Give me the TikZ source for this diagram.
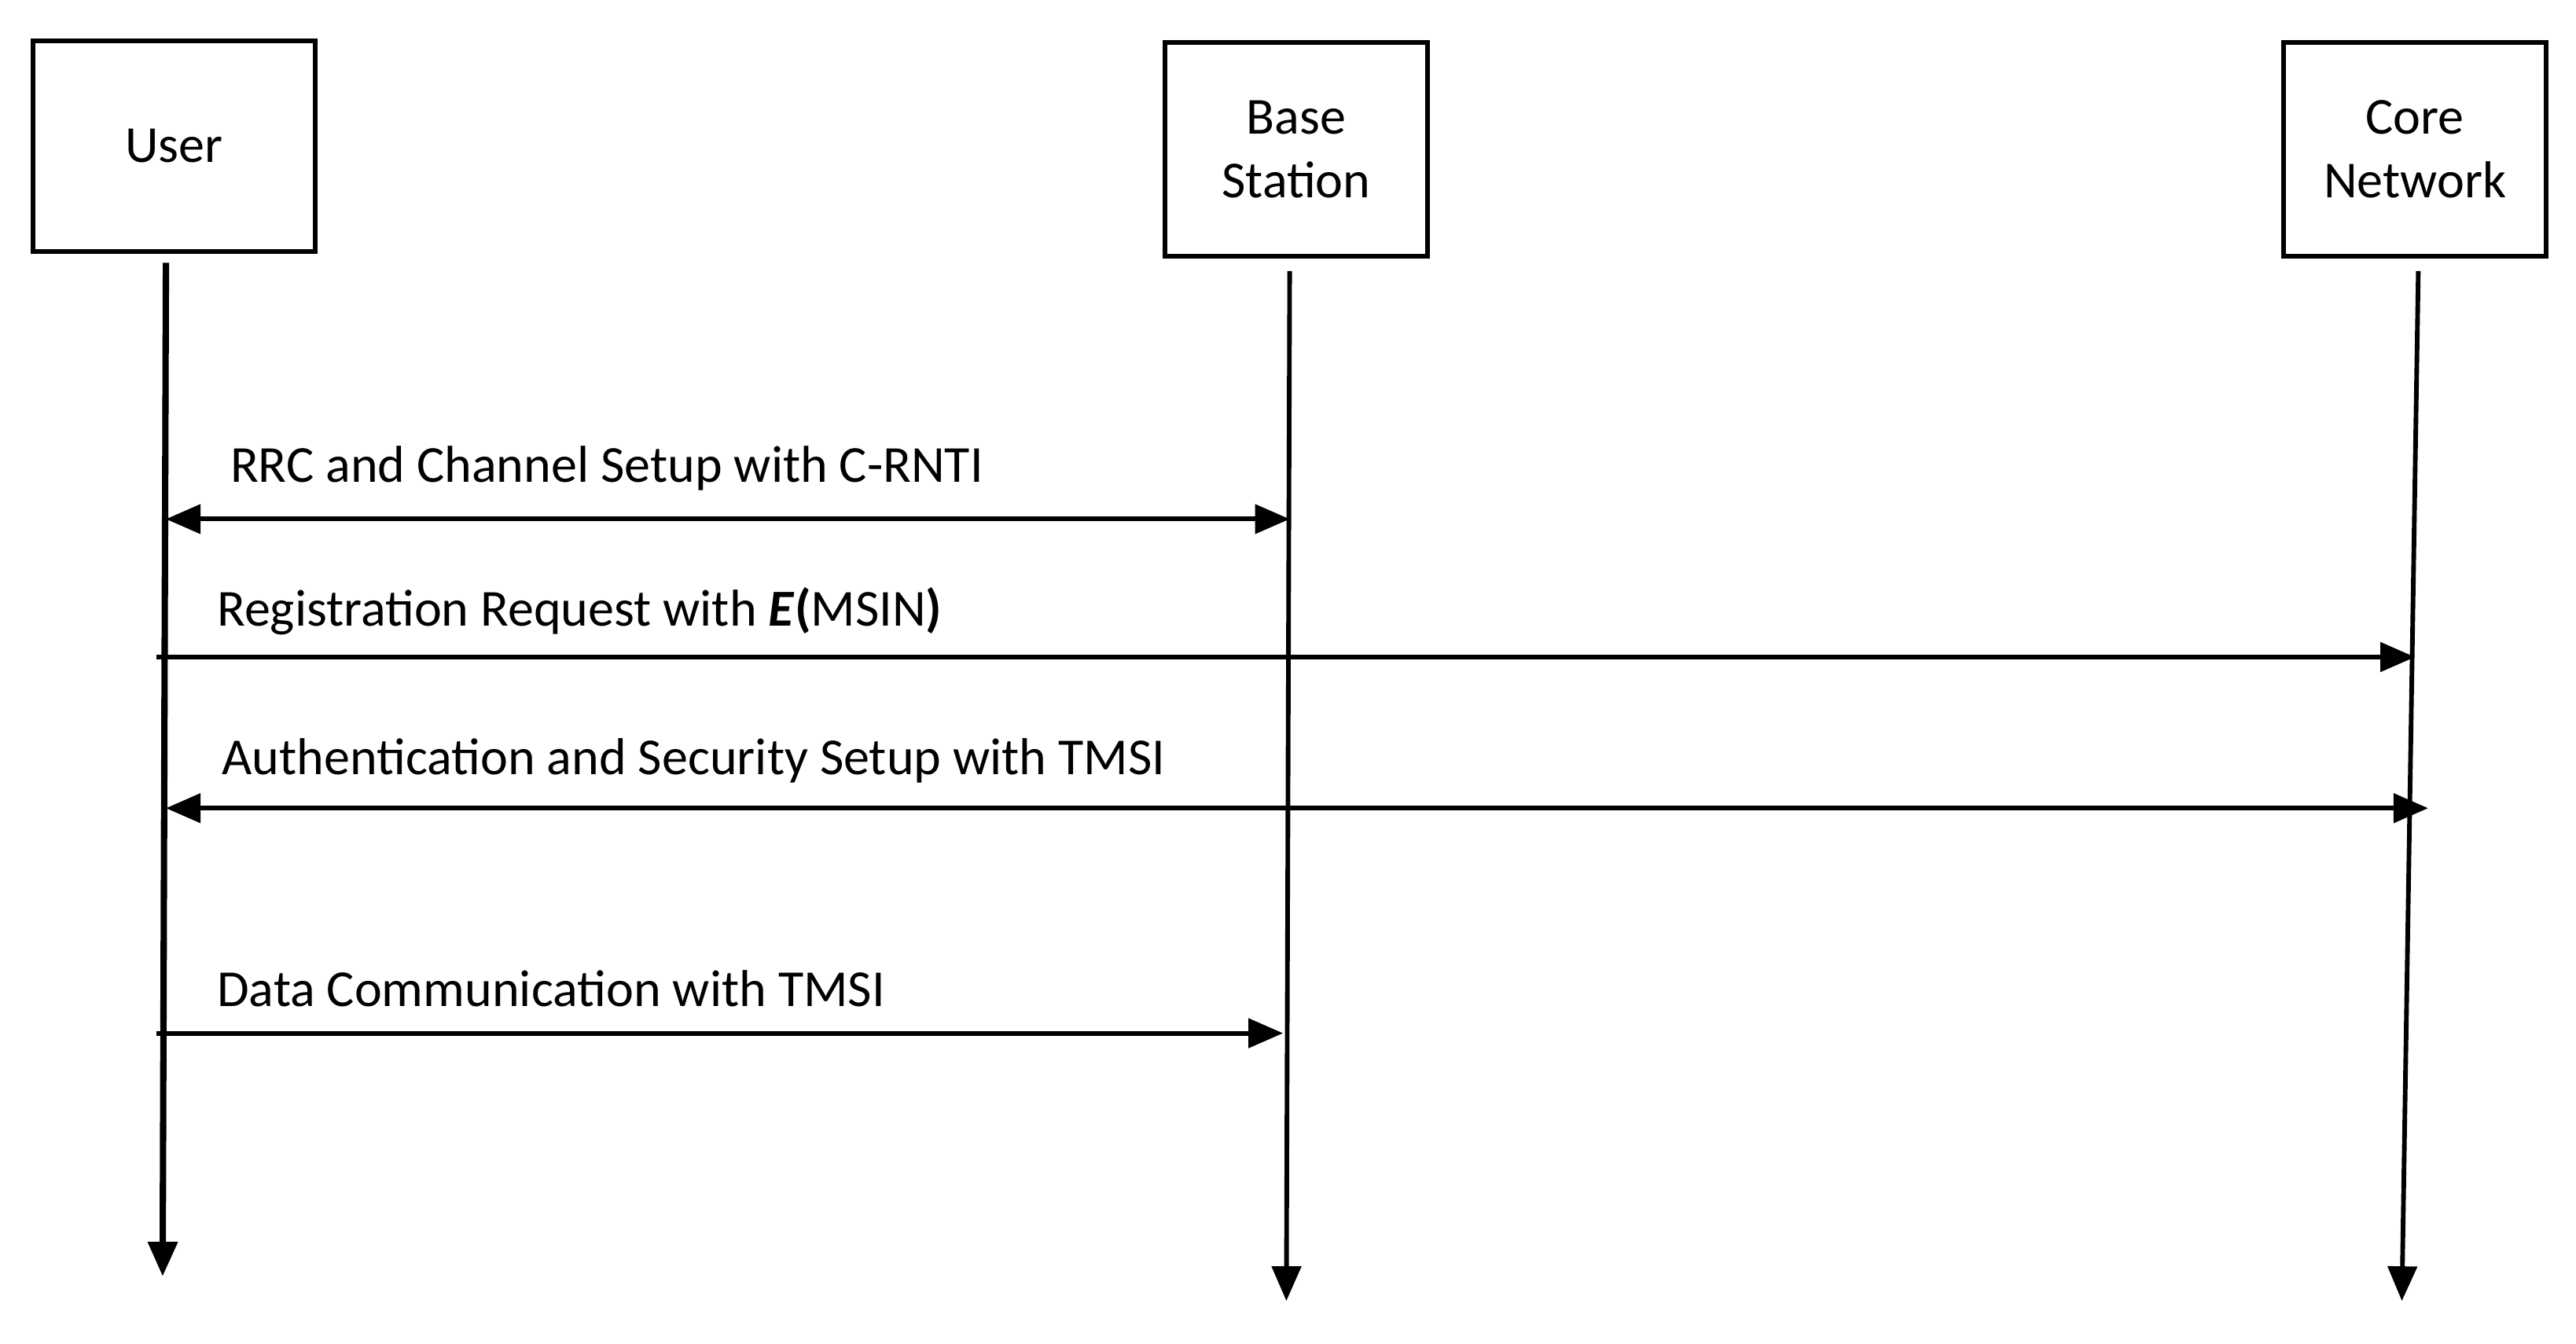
\documentclass[tikz,border=0pt]{standalone}
\usepackage{fontspec}
\setmainfont{Carlito}
\usetikzlibrary{arrows.meta}
\begin{document}
\begin{tikzpicture}[x=0.02cm,y=-0.02cm,
    actor/.style={draw,line width=1.6pt,align=center,font=\fontsize{18}{22}\selectfont},
    life/.style={line width=1.6pt,-{Triangle[length=12pt,width=10pt]}},
    msg/.style={line width=1.6pt,-{Triangle[length=12pt,width=10pt]}},
    both/.style={line width=1.6pt,{Triangle[length=12pt,width=10pt]}-{Triangle[length=12pt,width=10pt]}},
    lbl/.style={anchor=west,font=\fontsize{18}{22}\selectfont}]
  \useasboundingbox (0,0) rectangle (1568,818);
  % actors
  \node[actor,minimum width=3.44cm,minimum height=2.56cm] (user) at (106,89) {User};
  \node[actor,minimum width=3.2cm,minimum height=2.6cm] (bs) at (789,91) {Base\\Station};
  \node[actor,minimum width=3.2cm,minimum height=2.6cm] (cn) at (1470,91) {Core\\Network};
  % lifelines
  \coordinate (u0) at (101,160); \coordinate (u1) at (99,777);
  \coordinate (b0) at (785,165); \coordinate (b1) at (783,792);
  \coordinate (c0) at (1472,165); \coordinate (c1) at (1462,792);
  \draw[life,line width=2.2pt] (u0) -- (u1);
  \draw[life] (b0) -- (b1);
  \draw[life] (c0) -- (c1);
  % messages
  \coordinate (m1a) at (101,316); \coordinate (m1b) at (785,316);
  \coordinate (m2a) at (95,400);  \coordinate (m2b) at (1470,400);
  \coordinate (m3a) at (101,492); \coordinate (m3b) at (1478,492);
  \coordinate (m4a) at (95,629);  \coordinate (m4b) at (781,629);
  \draw[both] (m1a) -- (m1b);
  \draw[msg] (m2a) -- (m2b);
  \draw[both] (m3a) -- (m3b);
  \draw[msg] (m4a) -- (m4b);
  \node[lbl] (l1) at (134,285) {RRC and Channel Setup with C-RNTI};
  \node[lbl] (l2) at (126,372) {Registration Request with \textbf{\textit{E}(}MSIN\textbf{)}};
  \node[lbl] (l3) at (129,463) {Authentication and Security Setup with TMSI};
  \node[lbl] (l4) at (126,602) {Data Communication with TMSI};
\end{tikzpicture}
\end{document}
